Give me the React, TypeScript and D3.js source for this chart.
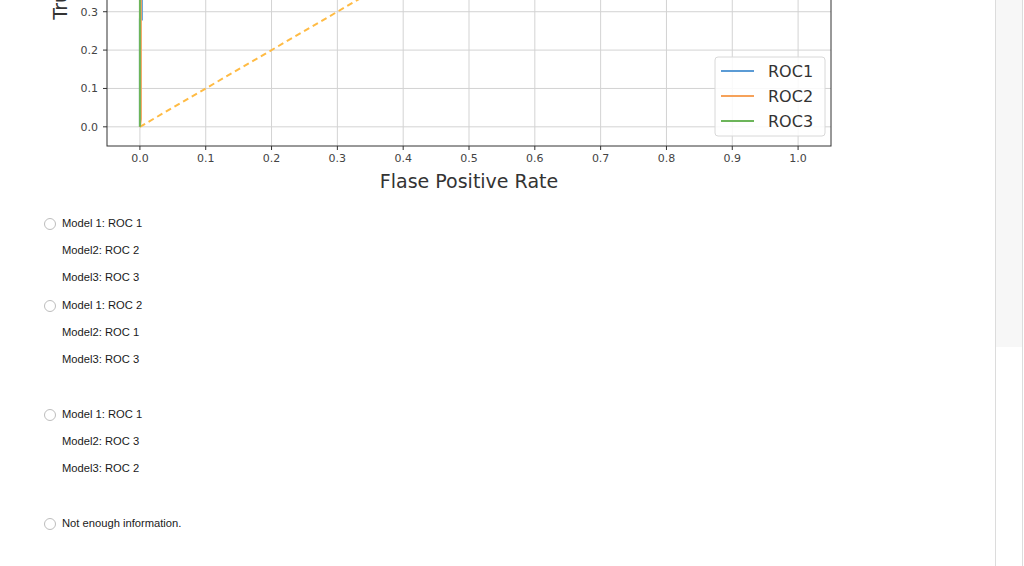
import React from "react";
import * as d3 from "d3";

// ROC curves (false positive rate, true positive rate)
const roc1Fpr = [0, 0, 0.003, 0.003, 1];
const roc1Tpr = [0, 0.28, 0.28, 1, 1];
const roc2Fpr = [0, 0.0015, 0.0015, 1];
const roc2Tpr = [0, 0.02, 1, 1];
const roc3Fpr = [0, 0, 1];
const roc3Tpr = [0, 1, 1];
const chanceFpr = [0, 1];
const chanceTpr = [0, 1];

const seriesNames = ["ROC1", "ROC2", "ROC3"];
const seriesColors = ["#5b9bd5", "#f6a25a", "#6cb55a"];

const xTicks = [0, 0.1, 0.2, 0.3, 0.4, 0.5, 0.6, 0.7, 0.8, 0.9, 1.0];
const yTicks = [0, 0.1, 0.2, 0.3, 0.4, 0.5, 0.6, 0.7, 0.8, 0.9, 1.0];

const xLabel = "Flase Positive Rate";
const yLabel = "True Positive Rate";

// Answer choices: each is a group of lines, first line carries the radio button
const answerGroups = [
  ["Model 1: ROC 1", "Model2: ROC 2", "Model3: ROC 3"],
  ["Model 1: ROC 2", "Model2: ROC 1", "Model3: ROC 3"],
  ["Model 1: ROC 1", "Model2: ROC 3", "Model3: ROC 2"],
  ["Not enough information."],
];
const groupTops = [223, 305, 414, 523];

const W = 1024;
const H = 566;
const plot = { left: 107, right: 831, top: -276, bottom: 146 };

export default function App() {
  const x = d3.scaleLinear().domain([-0.05, 1.05]).range([plot.left, plot.right]);
  const y = d3.scaleLinear().domain([-0.05, 1.05]).range([plot.bottom, plot.top]);
  const line = (xs: number[], ys: number[]) =>
    d3.line<number>().x((_, i) => x(xs[i])).y((_, i) => y(ys[i]))(xs.map((v) => v)) || "";

  const curves = [
    { xs: roc1Fpr, ys: roc1Tpr },
    { xs: roc2Fpr, ys: roc2Tpr },
    { xs: roc3Fpr, ys: roc3Tpr },
  ];

  const chartFont = "DejaVu Sans, sans-serif";
  const uiFont = "Liberation Sans, Arial, sans-serif";
  const legend = { x: 715, y: 57, w: 110, h: 79 };

  // the plot extends above the top of the page; only ticks on the page get labels
  const visibleYTicks = yTicks.filter((t) => y(t) > 6);

  return (
    <svg
      width={W}
      height={H}
      style={{ position: "absolute", left: 0, top: 0, background: "#fff" }}
    >
      {/* scrollbar strip */}
      <rect x={996} y={0} width={26} height={347} fill="#f7f7f7" />
      <line x1={995.5} x2={995.5} y1={0} y2={H} stroke="#dcdcdc" />
      <line x1={1022.5} x2={1022.5} y1={0} y2={H} stroke="#dcdcdc" />

      <g fontFamily={chartFont}>
        {/* grid */}
        {xTicks.map((t) => (
          <line key={"gx" + t} x1={x(t)} x2={x(t)} y1={plot.top} y2={plot.bottom} stroke="#d3d3d3" strokeWidth={1} />
        ))}
        {yTicks.map((t) => (
          <line key={"gy" + t} x1={plot.left} x2={plot.right} y1={y(t)} y2={y(t)} stroke="#d3d3d3" strokeWidth={1} />
        ))}

        {/* chance diagonal */}
        <path d={line(chanceFpr, chanceTpr)} fill="none" stroke="#ffbb44" strokeWidth={2} strokeDasharray="6,4" />

        {/* ROC curves */}
        {curves.map((c, i) => (
          <path key={i} d={line(c.xs, c.ys)} fill="none" stroke={seriesColors[i]} strokeWidth={2} />
        ))}

        {/* spines */}
        <rect x={plot.left} y={plot.top} width={plot.right - plot.left} height={plot.bottom - plot.top} fill="none" stroke="#333" strokeWidth={1} />

        {/* x axis ticks */}
        {xTicks.map((t) => (
          <g key={"tx" + t}>
            <line x1={x(t)} x2={x(t)} y1={plot.bottom} y2={plot.bottom + 4} stroke="#333" />
            <text x={x(t)} y={plot.bottom + 16} textAnchor="middle" fontSize={11} fill="#444">
              {t.toFixed(1)}
            </text>
          </g>
        ))}
        {/* y axis ticks */}
        {visibleYTicks.map((t) => (
          <g key={"ty" + t}>
            <line x1={plot.left - 4} x2={plot.left} y1={y(t)} y2={y(t)} stroke="#333" />
            <text x={plot.left - 9} y={y(t) + 4} textAnchor="end" fontSize={11} fill="#444">
              {t.toFixed(1)}
            </text>
          </g>
        ))}

        <text x={(plot.left + plot.right) / 2} y={188} textAnchor="middle" fontSize={19} fill="#333">
          {xLabel}
        </text>
        <text
          transform={`translate(67,${(plot.top + plot.bottom) / 2}) rotate(-90)`}
          textAnchor="middle"
          fontSize={19}
          fill="#333"
        >
          {yLabel}
        </text>

        {/* legend */}
        <rect x={legend.x} y={legend.y} width={legend.w} height={legend.h} rx={3} fill="#fff" fillOpacity={0.85} stroke="#d8d8d8" />
        {seriesNames.map((name, i) => (
          <g key={name}>
            <line x1={721} x2={754} y1={71 + i * 25} y2={71 + i * 25} stroke={seriesColors[i]} strokeWidth={2} />
            <text x={768} y={77 + i * 25} fontSize={16} fill="#333">
              {name}
            </text>
          </g>
        ))}
      </g>

      {/* answer choices */}
      <g fontFamily={uiFont} fontSize={11.2} fill="#1a1a1a">
        {answerGroups.map((group, gi) => (
          <g key={gi}>
            <circle cx={50} cy={groupTops[gi] + 1} r={5.5} fill="#fff" stroke="#bdbdbd" />
            {group.map((txt, li) => (
              <text key={li} x={62} y={groupTops[gi] + 4 + li * 27}>
                {txt}
              </text>
            ))}
          </g>
        ))}
      </g>
    </svg>
  );
}
